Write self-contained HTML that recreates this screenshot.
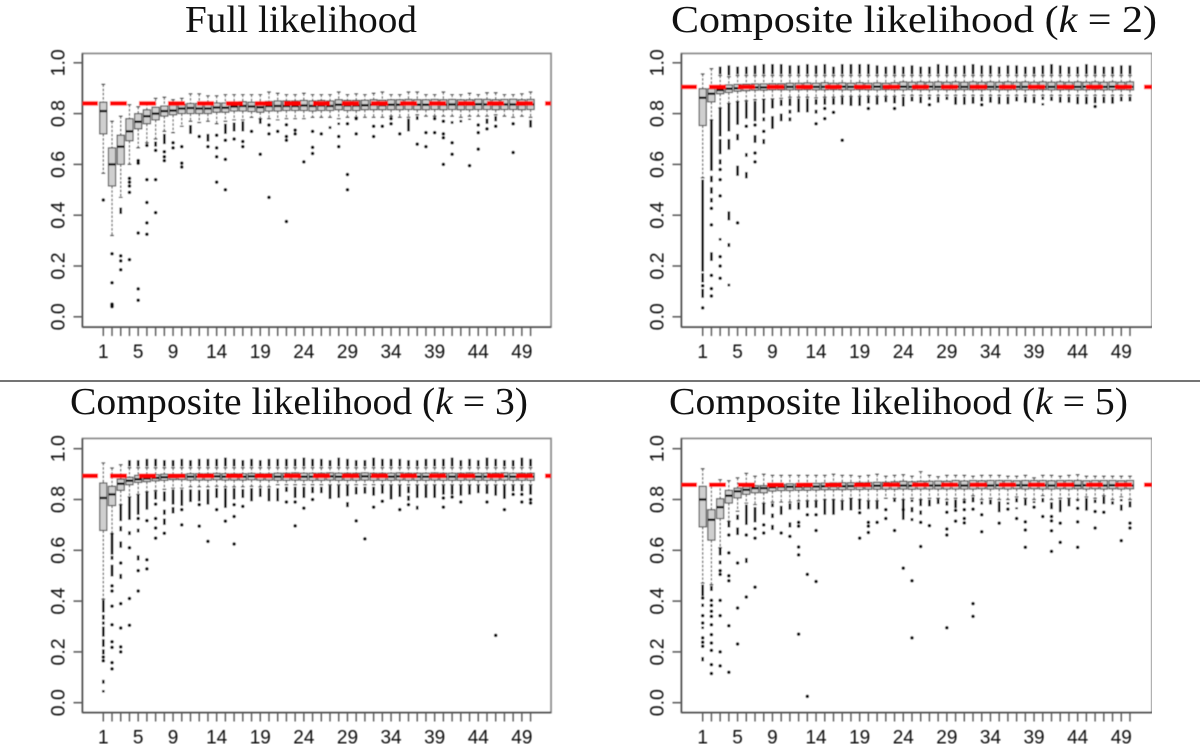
<!DOCTYPE html>
<html>
<head>
<meta charset="utf-8">
<title>Likelihood box plots</title>
<style>
html,body{margin:0;padding:0;background:#fff;width:1200px;height:744px;overflow:hidden}
svg{display:block}
text{font-family:"Liberation Sans",sans-serif}
.ttl{font-family:"Liberation Serif",serif;font-size:38px;fill:#111}
</style>
</head>
<body>
<svg id="fig" width="1200" height="744" viewBox="0 0 1200 744" xmlns="http://www.w3.org/2000/svg">
<defs><filter id="soft" x="0" y="0" width="100%" height="100%"><feGaussianBlur stdDeviation="0.42"/></filter></defs>
<rect x="0" y="0" width="1200" height="744" fill="#fff"/>
<g id="marks" filter="url(#soft)"></g>
<line x1="0" x2="1200" y1="381" y2="381" stroke="#222" stroke-width="1.2"/>
<text class="ttl" x="185" y="32" textLength="232" lengthAdjust="spacingAndGlyphs">Full likelihood</text>
<text class="ttl" x="671" y="32" textLength="486" lengthAdjust="spacingAndGlyphs">Composite likelihood (<tspan font-style="italic">k</tspan> = 2)</text>
<text class="ttl" x="70" y="414" textLength="458" lengthAdjust="spacingAndGlyphs">Composite likelihood (<tspan font-style="italic">k</tspan> = 3)</text>
<text class="ttl" x="669" y="414" textLength="459" lengthAdjust="spacingAndGlyphs">Composite likelihood (<tspan font-style="italic">k</tspan> = 5)</text>
</svg>
<script>
const xTickLabels = [1,5,9,14,19,24,29,34,39,44,49];
const yTickLabels = ["0.0","0.2","0.4","0.6","0.8","1.0"];
const refValues = [0.84,0.905,0.893,0.858];

/* ---------- Panel 1: full likelihood ---------- */
const p1Median = [.81,.60,.67,.73,.768,.79,.80,.81,.812,.82,
.822,.82,.82,.824,.823,.828,.83,.828,.825,.83,
.83,.83,.83,.832,.83,.832,.83,.835,.832,.832,
.833,.835,.833,.835,.835,.836,.835,.835,.836,.835,
.836,.835,.835,.837,.836,.835,.836,.836,.835,.836];
const p1Q1 = [.72,.515,.60,.693,.74,.76,.775,.79,.795,.80,
.80,.80,.80,.805,.805,.81,.81,.808,.805,.81,
.81,.812,.812,.812,.81,.812,.812,.815,.812,.812,
.815,.815,.815,.815,.815,.816,.815,.815,.816,.815,
.816,.815,.815,.816,.816,.815,.816,.816,.815,.816];
const p1Q3 = [.845,.665,.715,.78,.80,.815,.825,.83,.833,.838,
.84,.84,.84,.842,.842,.845,.847,.845,.845,.848,
.85,.85,.85,.852,.85,.852,.85,.855,.852,.852,
.853,.855,.853,.855,.855,.856,.855,.855,.856,.855,
.856,.855,.855,.857,.856,.855,.856,.857,.855,.856];
const p1High = [.915,.77,.79,.835,.827,.84,.86,.865,.855,.86,
.878,.878,.87,.87,.875,.875,.875,.875,.875,.885,
.88,.875,.875,.88,.875,.875,.875,.885,.875,.878,
.875,.88,.885,.875,.875,.885,.885,.875,.875,.885,
.875,.875,.88,.875,.882,.882,.875,.875,.878,.885];
const p1Low = [.565,.32,.47,.60,.665,.685,.70,.73,.725,.75,
.77,.765,.77,.76,.77,.775,.775,.785,.78,.78,
.775,.78,.78,.78,.785,.785,.785,.78,.785,.785,
.785,.785,.785,.79,.785,.785,.795,.79,.79,.79,
.79,.785,.79,.79,.79,.795,.79,.785,.79,.785];
const p1TopRun = new Array(50).fill(0);
const p1Outliers = [
[.46],[.248,.134,.05,.045,.04],[[.405,.43],.24,.22,.185],[.545,.53,.515,.49,.225],[.615,.605,.33,.11,.065],
[.675,.54,.45,.37,.325],[[.67,.69],.655,.54,.41],[[.68,.72],.65,.63,.615],[.685,.665],[.67,.605,.59],
[[.72,.755]],[.71],[[.69,.72],.67],[.715,.665,.63,.53],[[.72,.76],.695,.62,.50],
[[.73,.765],.70],[[.73,.77],.69,.67],[.73],[[.76,.78],.64],[.755,.72,.47],
[.73],[.756,.71,.695,.375],[.735,.72],[.61],[.73,.667,.643],
[.72],[[.74,.75]],[[.755,.765],.71,.67],[.76,.56,.50],[.78,.72],
[],[.75,.71],[.75],[.78,.76],[.72],
[[.73,.78]],[[.775,.79],.68],[.725,.67],[.78,.725],[.77,.72,.705,.60],
[[.76,.77],.685,.64],[[.765,.775]],[[.775,.78],.595],[.755,.725,.66],[[.76,.78],.74],
[[.77,.79],.75],[],[.76,.647],[],[[.745,.775]]];

/* ---------- Panel 2: composite k = 2 ---------- */
const p2Median = [.862,.878,.893,.898,.90,.902,.903,.903,.904,.904,
.905,.905,.905,.905,.905,.905,.906,.905,.905,.905,
.906,.905,.905,.906,.905,.905,.906,.905,.905,.906,
.905,.905,.906,.905,.905,.906,.905,.905,.906,.905,
.905,.906,.905,.905,.906,.905,.905,.906,.905,.905];
const p2Q1 = [.753,.846,.878,.883,.888,.89,.892,.892,.893,.893,
.893,.893,.894,.893,.893,.894,.893,.893,.894,.893,
.893,.894,.893,.893,.894,.893,.893,.894,.893,.893,
.894,.893,.893,.894,.893,.893,.894,.893,.893,.894,
.893,.893,.894,.893,.893,.894,.893,.893,.894,.893];
const p2Q3 = [.898,.898,.905,.913,.915,.916,.917,.917,.918,.918,
.92,.92,.921,.92,.922,.92,.921,.92,.922,.92,
.921,.92,.922,.925,.924,.925,.924,.925,.924,.925,
.924,.925,.924,.925,.924,.925,.924,.925,.924,.925,
.924,.925,.924,.925,.924,.925,.924,.925,.924,.925];
const p2High = [.956,.977,.95,.945,.95,.95,.95,.95,.95,.95,
.95,.95,.95,.95,.95,.95,.95,.95,.95,.95,
.95,.95,.95,.95,.95,.95,.95,.95,.95,.95,
.95,.95,.95,.95,.95,.95,.95,.95,.95,.95,
.95,.95,.95,.95,.95,.95,.95,.95,.95,.95];
const p2Low = [.547,.775,.822,.84,.847,.85,.855,.857,.858,.86,
.865,.865,.865,.862,.865,.865,.868,.868,.868,.868,
.868,.868,.868,.872,.872,.872,.872,.872,.872,.872,
.872,.872,.872,.872,.872,.872,.872,.872,.872,.872,
.872,.872,.872,.872,.872,.872,.872,.872,.872,.872];
const p2TopRun = [0,0,.985,.99,.985,.985,.99,.995,.995,.995,
.99,.99,.995,.99,.995,.985,.995,.995,.995,.995,
.99,.985,.99,.985,.99,.985,.985,.995,.99,.985,
.99,.995,.99,.99,.985,.99,.99,.985,.985,.99,
.995,.99,.985,.985,.995,.99,.985,.985,.99,.99];
const p2Outliers = [
[[.178,.54],[.135,.172],.122,[.075,.11],.035],
[[.575,.776],[.53,.555],[.485,.51],[.45,.468],.427,.362,[.22,.254],.163,.111,.082],
[[.71,.822],[.64,.70],[.60,.62],.58,.54,.476,[.30,.31],.237,.20,.152],
[[.73,.84],[.658,.70],[.38,.415],[.275,.29],[.12,.13]],
[[.756,.847],[.695,.72],[.555,.595],.37],
[[.78,.847],.75,[.63,.645],[.545,.57]],
[[.77,.85],.755,[.685,.715],.645,.61],
[[.80,.857],[.77,.785],.73,[.68,.70]],
[[.82,.855],[.74,.79]],
[[.83,.855],[.77,.80]],
[[.83,.86],[.80,.815],[.77,.785]],
[[.805,.86]],[[.805,.86]],[[.835,.857],[.80,.815],.76],[[.835,.861],.82,.78],
[[.835,.861],.805],[[.835,.865],.695],[[.83,.865]],[[.83,.865]],[[.84,.865],.82],
[[.835,.865]],[[.845,.865]],[[.84,.865],.82],[[.828,.867]],[[.848,.867]],
[[.841,.867]],[[.854,.867],.835],[[.843,.867]],[[.854,.867]],[[.835,.867]],
[[.835,.867]],[[.839,.867]],[[.848,.867],.835],[[.843,.867]],[[.837,.867]],
[[.837,.867]],[[.848,.867]],[[.843,.867]],[[.841,.867]],[[.854,.867],[.832,.841]],
[[.85,.867]],[[.843,.867]],[[.843,.867]],[[.837,.867]],[[.837,.867]],
[[.841,.867],.828],[[.841,.867]],[[.839,.867]],[[.848,.867]],[[.848,.867]]];

/* ---------- Panel 3: composite k = 3 ---------- */
const p3Median = [.806,.82,.862,.874,.88,.883,.885,.888,.888,.89,
.89,.89,.89,.891,.89,.89,.89,.891,.89,.89,
.89,.89,.891,.89,.89,.89,.891,.89,.89,.89,
.891,.89,.89,.89,.891,.89,.89,.89,.891,.89,
.89,.89,.891,.89,.89,.89,.891,.89,.89,.89];
const p3Q1 = [.678,.776,.836,.858,.867,.87,.873,.875,.878,.878,
.876,.876,.876,.877,.876,.876,.876,.877,.876,.876,
.875,.875,.876,.875,.875,.875,.876,.875,.875,.875,
.876,.875,.875,.875,.876,.875,.875,.875,.876,.875,
.875,.875,.876,.875,.875,.875,.876,.875,.875,.875];
const p3Q3 = [.865,.852,.88,.888,.895,.897,.898,.90,.90,.90,
.902,.902,.902,.903,.902,.902,.902,.903,.902,.902,
.904,.904,.905,.904,.904,.904,.905,.904,.904,.904,
.905,.904,.904,.904,.905,.904,.904,.904,.905,.904,
.904,.904,.905,.904,.904,.904,.905,.904,.904,.904];
const p3High = [.944,.924,.937,.925,.925,.925,.925,.925,.925,.925,
.925,.925,.925,.925,.925,.925,.925,.925,.925,.925,
.925,.925,.925,.925,.925,.925,.925,.925,.925,.925,
.925,.925,.925,.925,.925,.925,.925,.925,.925,.925,
.925,.925,.925,.925,.925,.925,.925,.925,.925,.925];
const p3Low = [.408,.665,.78,.81,.82,.83,.835,.84,.845,.845,
.85,.85,.85,.852,.85,.85,.85,.852,.85,.85,
.858,.858,.858,.858,.858,.858,.858,.858,.858,.858,
.858,.858,.858,.858,.858,.858,.858,.858,.858,.858,
.858,.858,.858,.858,.858,.858,.858,.858,.858,.858];
const p3TopRun = [0,0,0,.955,.955,.96,.96,.955,.955,.96,
.955,.96,.96,.96,.965,.96,.955,.96,.955,.96,
.96,.96,.96,.965,.96,.96,.955,.965,.96,.955,
.955,.965,.96,.96,.96,.955,.955,.96,.96,.96,
.965,.955,.96,.955,.965,.96,.955,.955,.965,.96];
const p3Outliers = [
[[.355,.405],[.327,.346],[.307,.32],[.26,.30],[.22,.25],[.19,.21],.18,.165,[.075,.09],[.04,.05]],
[[.583,.669],[.563,.578],[.497,.543],.46,.44,.38,.307,.24,.218,.158,.133],
[[.715,.78],[.675,.695],[.61,.635],.55,[.487,.507],.39,.294,.22,.20],
[[.72,.81],[.66,.675],.61,.41,.305],
[[.74,.82],.725,[.67,.685],[.56,.58],.52,.44],
[[.76,.83],.717,.563,.527],
[[.80,.832],.782,.725,.688,.648],
[[.793,.832],[.74,.76],[.70,.725],.667],
[[.78,.84],[.745,.77]],
[[.775,.84],.76,.70],
[[.79,.84]],[[.793,.838],.78,.695],[[.78,.841],.635],[[.806,.845],.76],[[.767,.845],.715],
[[.80,.845],.78,.733,.625],[[.806,.841],.773],[[.793,.845]],[[.81,.845]],[[.793,.845]],
[[.793,.845]],[[.83,.85],.79],[[.806,.85],.79,.696],[[.806,.85],.766],[[.825,.85],.80],
[[.825,.85]],[[.802,.855]],[[.806,.855]],[[.813,.855],[.77,.79]],[[.82,.85],.716],
[[.823,.85],.645],[[.815,.85],.77],[[.823,.855],.793],[[.80,.855]],[[.81,.855],.76],
[[.825,.852],[.795,.815],.78],[[.806,.855],[.76,.775]],[[.806,.855]],[[.806,.855]],[[.819,.855],.806,.77],
[[.819,.855],.81],[[.815,.855],.79],[[.819,.855]],[[.825,.855]],[[.822,.855],.79],
[[.815,.855],.265],[[.802,.855],.76],[[.832,.855],.82],[[.832,.855],.82,.79],[[.819,.855],.80,.786]];

/* ---------- Panel 4: composite k = 5 ---------- */
const p4Median = [.80,.72,.77,.815,.832,.838,.845,.845,.848,.85,
.85,.85,.851,.851,.852,.852,.852,.853,.853,.853,
.854,.854,.854,.855,.854,.855,.855,.855,.855,.856,
.855,.855,.856,.855,.856,.855,.856,.856,.855,.856,
.855,.856,.856,.855,.856,.856,.855,.856,.856,.855];
const p4Q1 = [.692,.64,.725,.786,.806,.82,.826,.826,.833,.835,
.835,.836,.836,.837,.838,.838,.838,.839,.839,.84,
.84,.84,.84,.841,.84,.841,.841,.841,.841,.841,
.841,.841,.842,.841,.842,.841,.842,.841,.842,.841,
.841,.842,.841,.842,.841,.842,.841,.842,.841,.842];
const p4Q3 = [.852,.76,.803,.836,.845,.85,.855,.855,.858,.86,
.862,.862,.864,.864,.865,.866,.866,.866,.867,.867,
.868,.868,.87,.872,.87,.872,.872,.873,.872,.875,
.873,.875,.874,.875,.875,.875,.874,.875,.875,.875,
.874,.875,.875,.875,.874,.875,.875,.875,.874,.875];
const p4High = [.921,.852,.878,.874,.885,.903,.892,.90,.895,.895,
.895,.895,.895,.895,.895,.90,.895,.895,.892,.895,
.90,.892,.895,.898,.892,.91,.895,.89,.895,.895,
.895,.892,.895,.895,.895,.892,.892,.895,.885,.895,
.895,.892,.895,.898,.892,.892,.892,.892,.892,.892];
const p4Low = [.471,.465,.61,.714,.754,.786,.78,.785,.79,.79,
.79,.795,.795,.795,.80,.80,.795,.805,.80,.795,
.795,.805,.805,.80,.805,.80,.805,.805,.80,.805,
.80,.815,.80,.805,.80,.80,.81,.805,.80,.815,
.80,.805,.805,.80,.81,.805,.815,.80,.81,.80];
const p4TopRun = new Array(50).fill(0);
const p4Outliers = [
[[.42,.465],.412,[.377,.39],.343,.314,[.29,.30],.255,.238,.222,[.163,.18]],
[[.44,.46],.403,.383,.36,.34,.307,.268,.235,.206,.15,.115],
[[.58,.61],[.545,.56],.52,.505,.403,.343,.20,.145],
[[.69,.714],.66,.59,.50,.48,.303,.12],
[[.72,.74],[.66,.69],.55,.373,.231],
[[.70,.78],.66,[.55,.57],.416],
[[.71,.77],.685,.648,.455],
[[.74,.785],.70,.668],
[[.77,.785],[.727,.745],[.68,.70]],
[[.74,.775],.668],
[[.76,.785],[.69,.71],.655],
[[.76,.79],.71,.695,.613,.582,.27],
[[.767,.793],.74,.505,.025],
[[.767,.793],.74,.678,.477],
[[.74,.799]],[[.74,.799]],[[.757,.793]],[[.757,.806]],[[.76,.802],.748,.648],[[.762,.793],.71,.695,.67],
[[.762,.793],.71],[.76,.725],[[.79,.802],.678],
[[.72,.8],.76,.53],
[[.79,.80],[.75,.77],[.715,.727],.48,.255],
[[.774,.80],[.74,.757],.71,.615],
[[.773,.80],.697],
[[.782,.802]],
[[.776,.793],.75,.684,.66,.295],
[[.766,.80],.757,.715],
[.79,.76,.725,.708],
[[.789,.81],.762,.39,.34],
[[.78,.793],.74,.673],
[[.78,.80]],
[[.75,.793],.707],
[[.78,.789],.762],
[[.789,.806],[.762,.769],.725],
[[.776,.802],.712,.68,.612],
[[.786,.793],.77],
[[.789,.806],.733],
[[.762,.789],.733,.716,.677,.596],
[[.75,.80],.707,.631],
[[.773,.802]],
[[.793,.80],.765,.712,.612],
[[.756,.806]],
[[.786,.80],.753,.688],
[[.782,.812],.75],
[[.78,.793]],
[[.793,.802],[.756,.78],.638],
[[.769,.793],.707,.688]];

/* ---------- Layout (not data) ---------- */
const NS = "http://www.w3.org/2000/svg";
const panels = [
 {left:82.5,right:551,top:53.5,bottom:327,y1:62.8,y0:316.8,x1:103.3,median:p1Median,q1:p1Q1,q3:p1Q3,high:p1High,low:p1Low,topRun:p1TopRun,outliers:p1Outliers,ref:refValues[0]},
 {left:681.5,right:1152,top:53.5,bottom:327,y1:62.8,y0:316.8,x1:702.7,median:p2Median,q1:p2Q1,q3:p2Q3,high:p2High,low:p2Low,topRun:p2TopRun,outliers:p2Outliers,ref:refValues[1]},
 {left:82.5,right:551,top:438.5,bottom:712.5,y1:448.7,y0:702.7,x1:103.3,median:p3Median,q1:p3Q1,q3:p3Q3,high:p3High,low:p3Low,topRun:p3TopRun,outliers:p3Outliers,ref:refValues[2]},
 {left:681.5,right:1152,top:438.5,bottom:712.5,y1:448.7,y0:702.7,x1:702.7,median:p4Median,q1:p4Q1,q3:p4Q3,high:p4High,low:p4Low,topRun:p4TopRun,outliers:p4Outliers,ref:refValues[3]}
];
const BOX_STEP = 8.72;

function xScale(p, n){ return p.x1 + (n - 1) * BOX_STEP; }
function yScale(p, v){ return p.y0 - v * (p.y0 - p.y1); }
function shape(tag, attrs, parent){
  const el = document.createElementNS(NS, tag);
  for (const k in attrs) el.setAttribute(k, attrs[k]);
  parent.appendChild(el);
  return el;
}

const root = document.getElementById("marks");

panels.forEach(function(p, pi){
  const g = shape("g", {}, root);
  
  

  const frame = shape("rect", {x:p.left, y:p.top, width:p.right-p.left, height:p.bottom-p.top, fill:"#fff", stroke:"#8a8a8a", "stroke-width":1.8}, g);
  
  

  const leftAxis = shape("line", {x1:p.left, x2:p.left, y1:p.top, y2:p.bottom, stroke:"#555", "stroke-width":2}, g);
  
  

  const bottomAxis = shape("line", {x1:p.left, x2:p.right, y1:p.bottom, y2:p.bottom, stroke:"#555", "stroke-width":2}, g);
  
  

  yTickLabels.forEach(function(lab){
    const y = yScale(p, parseFloat(lab));
    const t = shape("line", {x1:p.left-9, x2:p.left, y1:y, y2:y, stroke:"#555", "stroke-width":1.5}, g);
    
    
    const tx = shape("text", {x:p.left-24, y:y, "font-size":19.5, fill:"#111", "text-anchor":"middle", transform:"rotate(-90 "+(p.left-24)+" "+y+")", "dominant-baseline":"central"}, g);
    
    
    tx.textContent = lab;
  });

  for (let n = 1; n <= 50; n++){
    const t = shape("line", {x1:xScale(p,n), x2:xScale(p,n), y1:p.bottom, y2:p.bottom+9, stroke:"#555", "stroke-width":1.4}, g);
    
    
  }
  xTickLabels.forEach(function(n){
    const tx = shape("text", {x:xScale(p,n), y:p.bottom+31, "font-size":19, fill:"#111", "text-anchor":"middle"}, g);
    
    
    tx.textContent = n;
  });

  for (let i = 0; i < 50; i++){
    const n = i + 1, x = xScale(p, n), hw = 3.6, cw = 1.9;
    const whisker = shape("path", {d:"M"+x+" "+yScale(p,p.high[i])+"V"+yScale(p,p.q3[i])+"M"+x+" "+yScale(p,p.q1[i])+"V"+yScale(p,p.low[i]), stroke:"#555", "stroke-width":1.2, "stroke-dasharray":"2.6 1.6", fill:"none"}, g);
    
    

    const caps = shape("path", {d:"M"+(x-cw)+" "+yScale(p,p.high[i])+"H"+(x+cw)+"M"+(x-cw)+" "+yScale(p,p.low[i])+"H"+(x+cw), stroke:"#333", "stroke-width":1.2, fill:"none"}, g);
    
    

    const box = shape("rect", {x:x-hw, y:yScale(p,p.q3[i]), width:hw*2, height:yScale(p,p.q1[i])-yScale(p,p.q3[i]), fill:"#cfcfcf", stroke:"#444", "stroke-width":1.1}, g);
    
    

    const med = shape("line", {x1:x-hw, x2:x+hw, y1:yScale(p,p.median[i]), y2:yScale(p,p.median[i]), stroke:"#000", "stroke-width":2.3}, g);
    
    

    if (p.topRun[i] > 0){
      const run = shape("line", {x1:x, x2:x, y1:yScale(p,p.topRun[i]), y2:yScale(p,p.high[i]+.005), stroke:"#000", "stroke-width":2.6}, g);
      
      
    }

    p.outliers[i].forEach(function(o){
      if (Array.isArray(o)){
        const run = shape("line", {x1:x, x2:x, y1:yScale(p,o[1]), y2:yScale(p,o[0]), stroke:"#000", "stroke-width":2.6}, g);
        
        
      } else {
        const dot = shape("circle", {cx:x, cy:yScale(p,o), r:1.75, fill:"#000"}, g);
        
        
      }
    });
  }

  const ref = shape("line", {x1:p.left, x2:p.right, y1:yScale(p,p.ref), y2:yScale(p,p.ref), stroke:"#ff0000", "stroke-width":4.4, "stroke-dasharray":"17 12", "stroke-dashoffset":1.5}, g);
  
  
});
</script>
</body>
</html>
